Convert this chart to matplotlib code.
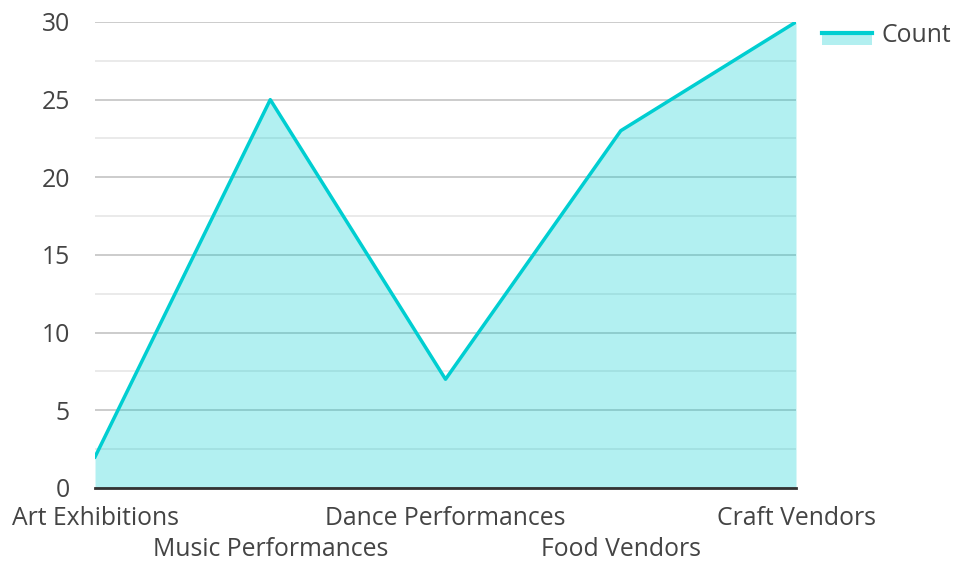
import matplotlib
matplotlib.use("Agg")
import matplotlib.pyplot as plt
from matplotlib.legend_handler import HandlerBase
from matplotlib.lines import Line2D
from matplotlib.patches import Rectangle, Patch
from matplotlib.ticker import MultipleLocator

plt.rcParams["font.family"] = ["Open Sans", "DejaVu Sans"]

# data
categories = ["Art Exhibitions", "Music Performances", "Dance Performances",
              "Food Vendors", "Craft Vendors"]
counts = [2, 25, 7, 23, 30]

LINE_COLOR = "#00ced1"
FILL_COLOR = "#b2eff0"
TEXT_COLOR = "#444444"
FONT_SIZE = 17.8


class AreaHandler(HandlerBase):
    """Legend key: filled box with the line on its top edge."""
    def create_artists(self, legend, orig_handle, xdescent, ydescent,
                       width, height, fontsize, trans):
        top = -ydescent + height * 0.5
        bottom = -ydescent - height * 0.2
        rect = Rectangle((-xdescent, bottom), width, top - bottom,
                         facecolor=FILL_COLOR, edgecolor="none", transform=trans)
        line = Line2D([-xdescent, -xdescent + width], [top, top],
                      color=LINE_COLOR, linewidth=3, transform=trans)
        return [rect, line]


fig = plt.figure(figsize=(9.54, 5.62), dpi=100)
ax = fig.add_axes([0.0996, 0.1317, 0.7348, 0.8292])

x = list(range(len(categories)))
ax.fill_between(x, counts, 0, color=LINE_COLOR, alpha=0.3, linewidth=0, zorder=2)
ax.plot(x, counts, color=LINE_COLOR, linewidth=2.5, zorder=3)

ax.set_xlim(0, len(categories) - 1)
ax.set_ylim(0, 30)
ax.yaxis.set_major_locator(MultipleLocator(5))
ax.yaxis.set_minor_locator(MultipleLocator(2.5))
ax.grid(axis="y", which="major", color="#c4c4c4", linewidth=1.2, zorder=1)
ax.grid(axis="y", which="minor", color="#e6e6e6", linewidth=1.2, zorder=1)
ax.set_axisbelow(True)

for side in ["top", "right", "left"]:
    ax.spines[side].set_visible(False)
ax.spines["bottom"].set_color("#333333")
ax.spines["bottom"].set_linewidth(2)
ax.spines["bottom"].set_zorder(4)

ax.set_xticks(x)
ax.set_xticklabels(categories)
ax.tick_params(axis="x", length=0, pad=13, labelsize=FONT_SIZE, labelcolor=TEXT_COLOR)
ax.tick_params(axis="y", which="both", length=0, pad=18, labelsize=FONT_SIZE,
               labelcolor=TEXT_COLOR)
# stagger the category labels on two rows
for i, tick in enumerate(ax.xaxis.get_major_ticks()):
    if i % 2 == 1:
        tick.set_pad(35)

handle = Patch()
ax.legend([handle], ["Count"], handler_map={Patch: AreaHandler()},
          loc="center left", bbox_to_anchor=(0.862, 0.937),
          bbox_transform=fig.transFigure, frameon=False, fontsize=FONT_SIZE,
          labelcolor=TEXT_COLOR, handlelength=2.0, handletextpad=0.4,
          borderpad=0, borderaxespad=0)

fig.savefig("out.png", dpi=100)
